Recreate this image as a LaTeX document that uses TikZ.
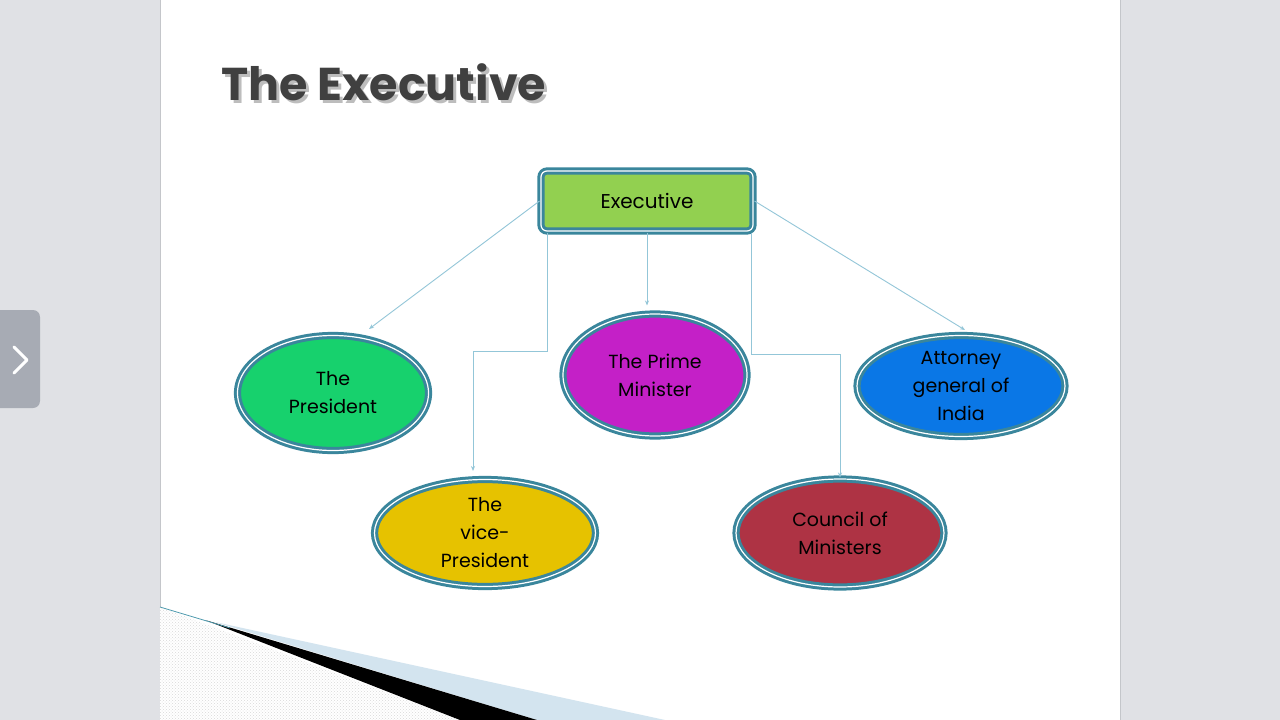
\documentclass[tikz,border=0pt]{standalone}
\usepackage{fontspec}
\setmainfont{Poppins}
\usepackage{tikz}
\usetikzlibrary{calc,arrows.meta,shapes.geometric,patterns}
\definecolor{sidegray}{HTML}{E0E1E5}
\definecolor{tabgray}{HTML}{A7ABB4}
\definecolor{edgegray}{HTML}{C4C6CA}
\definecolor{titlegray}{HTML}{404040}
\definecolor{shadowgray}{HTML}{BDBDBD}
\definecolor{rim}{HTML}{3A869C}
\definecolor{linkblue}{HTML}{93C6D8}
\definecolor{execgreen}{HTML}{92D050}
\definecolor{presgreen}{HTML}{17D16D}
\definecolor{vpgold}{HTML}{E6C200}
\definecolor{pmmagenta}{HTML}{C420C7}
\definecolor{cmred}{HTML}{AE3344}
\definecolor{attblue}{HTML}{0A77E6}
\definecolor{wedgeblue}{HTML}{D3E4EF}
\definecolor{seam}{HTML}{4E9AAE}
\tikzset{
  headbox/.style={rectangle, rounded corners=6pt, fill=execgreen, draw=rim,
    double=white, double distance=1.2pt, line width=3pt,
    minimum width=212pt, minimum height=60pt, font=\fontsize{20}{26}\selectfont},
  role/.style={ellipse, draw=rim, double=white, double distance=1.2pt,
    line width=3pt, inner sep=0pt},
  roletext/.style={align=center, text=black, font=\fontsize{19}{28}\selectfont},
  link/.style={draw=linkblue, line width=0.9pt, -{Stealth[length=5pt,width=4pt]}},
  title/.style={font=\fontsize{46}{52}\selectfont\bfseries, anchor=west}
}
\newcommand{\shadowed}[1]{\rlap{\hspace{3pt}\raisebox{-3pt}{\textcolor{shadowgray}{#1}}}#1}
\begin{document}
\begin{tikzpicture}[x=1pt, y=-1pt]
  % page in pixels, y grows downwards
  \useasboundingbox (0,0) rectangle (1280,720);
  \fill[sidegray] (0,0) rectangle (1280,720);
  \fill[white] (160,0) rectangle (1120,720);
  \draw[edgegray, line width=0.8pt] (160,0) -- (160,720);
  \draw[edgegray, line width=0.8pt] (1120,0) -- (1120,720);

  % side tab
  \fill[tabgray, rounded corners=7pt] (-10,310) rectangle (40,408);
  \draw[white, line width=3pt, line cap=round, line join=round]
    (14,347) -- (27,360) -- (14,373);

  % corner decoration
  \fill[white] (160,607) -- (460,720) -- (160,720) -- cycle;
  \fill[pattern=crosshatch dots, pattern color=gray!30] (160,607) -- (460,720) -- (160,720) -- cycle;
  \fill[wedgeblue] (215,622) -- (665,720) -- (537,720) -- cycle;
  \fill[black] (205,620) -- (537,720) -- (460,720) -- cycle;
  \draw[seam, line width=0.8pt] (160,607) -- (230,628);

  % title
  \node[title, text=titlegray] (ttl) at (218,84) {\shadowed{The Executive}};

  % boxes
  \node[headbox] (exec) at (647,201) {Executive};
  \node[role, fill=presgreen, minimum width=191pt, minimum height=115pt,
    label={[roletext, name=presT]center:The\\President}] (pres) at (333,393) {};
  \node[role, fill=vpgold, minimum width=221pt, minimum height=107pt,
    label={[roletext, name=vpT]center:The\\vice-\\President}] (vp) at (485,533) {};
  \node[role, fill=pmmagenta, minimum width=184pt, minimum height=122pt,
    label={[roletext, name=pmT]center:The Prime\\Minister}] (pm) at (655,375) {};
  \node[role, fill=cmred, minimum width=208pt, minimum height=108pt,
    label={[roletext, name=cmT]center:Council of\\Ministers}] (cm) at (840,533) {};
  \node[role, fill=attblue, minimum width=208pt, minimum height=101pt,
    label={[roletext, name=attT]center:Attorney\\general of\\India}] (att) at (961,386) {};

  % connectors
  \coordinate (presTip) at ($(pres.north)+(36,-5)$);
  \coordinate (attTip) at ($(att.north)+(4,-4)$);
  \draw[link] (exec.west) -- (presTip);
  \draw[link] (exec.east) -- (attTip);
  \draw[link, shorten >=7pt] (exec.south) -- (exec.south |- pm.north);
  \draw[link, shorten >=7pt] ([xshift=8pt]exec.south west) -- ++(0,119)
    -| ([xshift=-12pt]vp.north);
  \draw[link] ([xshift=-3pt]exec.south east) -- ++(0,122) -| (cm.north);
\end{tikzpicture}
\end{document}
